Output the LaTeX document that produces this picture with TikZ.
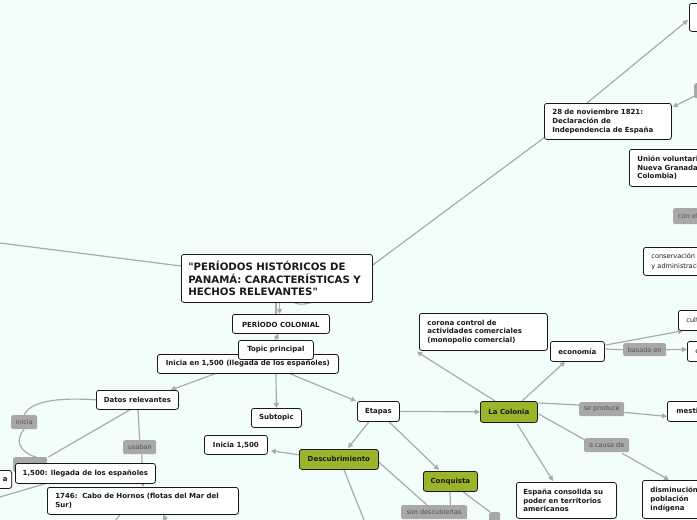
\documentclass[tikz,border=0pt]{standalone}
\usepackage{fontspec}
\setmainfont{DejaVu Sans}[Ligatures=TeXOff]
\usetikzlibrary{arrows.meta,positioning,calc,shadows}
\definecolor{bgcyan}{RGB}{241,254,252}
\definecolor{edgegray}{RGB}{170,170,170}
\definecolor{labgray}{RGB}{168,168,168}
\definecolor{labtext}{RGB}{80,80,80}
\definecolor{topicgreen}{RGB}{155,181,42}
\pgfdeclarelayer{bg}
\pgfdeclarelayer{edges}
\pgfsetlayers{bg,edges,main}

\begin{document}
\begin{tikzpicture}[x=1pt,y=-1pt,
  box/.style={draw=black!90,line width=0.75pt,rounded corners=2.5pt,fill=white,text=black!90,
    font=\bfseries\fontsize{7}{8.7}\selectfont,inner sep=0pt,anchor=north west,
    drop shadow={shadow xshift=0.8pt,shadow yshift=-0.8pt,opacity=0.3}},
  lbox/.style={box,align=left,inner xsep=8pt},
  thinfont/.style={font=\fontsize{6.6}{10}\selectfont},
  stage/.style={box,fill=topicgreen},
  tag/.style={fill=labgray,rounded corners=2pt,text=labtext,font=\fontsize{6.5}{7}\selectfont,
    inner sep=0pt,anchor=north west},
  conn/.style={draw=edgegray,line width=1.2pt},
  arr/.style={conn,-{Triangle[length=5pt,width=5pt]}}]
 \useasboundingbox (0,0) rectangle (697,520);
 \begin{pgfonlayer}{bg}
  \fill[bgcyan] (0,0) rectangle (697,520);
 \end{pgfonlayer}
 % ---- centre ----
 \node[box,font=\bfseries\fontsize{10.2}{12.3}\selectfont,align=left,inner xsep=7pt,text width=177,minimum height=48] (title) at (181,254)
   {"PERÍODOS HISTÓRICOS DE\\PANAMÁ: CARACTERÍSTICAS Y\\HECHOS RELEVANTES"};
 \node[box,minimum width=97,minimum height=19] (colonial) at (232,314) {PERÍODO COLONIAL};
 \node[box,minimum width=181,minimum height=19] (inicia) at (157,354) {Inicia en 1,500 (llegada de los españoles)};
 \node[box,minimum width=75,minimum height=19] (topicp) at (238,340) {Topic principal};
 \node[box,minimum width=82,minimum height=19] (datos) at (96,390) {Datos relevantes};
 \node[box,minimum width=50,minimum height=19] (subtopic) at (251,408) {Subtopic};
 \node[box,minimum width=42,minimum height=20] (etapas) at (357,401) {Etapas};
 % ---- upper right ----
 \node[lbox,text width=111,minimum height=36] (indep) at (544,103)
   {28 de noviembre 1821:\\Declaración de\\Independencia de España};
 \node[box,minimum width=40,minimum height=28] (cima) at (689,3) {};
 \node[tag,minimum width=20,minimum height=15] (tagcima) at (694,83) {};
 \node[lbox,text width=80,minimum height=37] (union) at (629,149) {Unión voluntaria\\Nueva Granada\\Colombia)};
 \node[tag,align=left,inner xsep=5pt,text width=30,minimum height=16] (conel) at (673,208) {con el};
 \node[lbox,thinfont,text width=70,minimum height=28] (conserv) at (643,247) {conservación\\y administración};
 % ---- La Colonia ----
 \node[stage,minimum width=57,minimum height=21] (colonia) at (480,401) {La Colonia};
 \node[lbox,text width=112,minimum height=37] (corona) at (419,313)
   {corona control de\\actividades comerciales\\(monopolio comercial)};
 \node[box,minimum width=54,minimum height=20] (economia) at (550,341) {economía};
 \node[lbox,thinfont,text width=60,minimum height=20] (cultivo) at (678,310) {cultivo};
 \node[lbox,thinfont,text width=60,minimum height=20] (ecut) at (687,341) {e};
 \node[lbox,inner xsep=9pt,text width=60,minimum height=20] (mesti) at (667,401) {mestizaje};
 \node[lbox,text width=60,minimum height=38] (dismin) at (642,480) {disminución\\población\\indígena};
 \node[lbox,inner xsep=7pt,text width=86,minimum height=36] (espana) at (516,482) {España consolida su\\poder en territorios\\americanos};
 \node[tag,minimum width=43,minimum height=13] (basada) at (623,343) {basada en};
 \node[tag,minimum width=45,minimum height=14] (produce) at (579,402) {se produce};
 \node[tag,minimum width=45,minimum height=14] (causa) at (584,438) {a causa de};
 % ---- etapas ----
 \node[box,minimum width=63,minimum height=19] (ini1500) at (204,435) {Inicia 1,500};
 \node[stage,minimum width=79,minimum height=20] (descub) at (299,449) {Descubrimiento};
 \node[stage,minimum width=54,minimum height=20] (conquista) at (423,471) {Conquista};
 \node[tag,minimum width=66,minimum height=14] (descubiertas) at (401,505) {son descubiertas};
 \node[tag,minimum width=11,minimum height=10] (tagmini) at (489,512) {};
 % ---- datos relevantes ----
 \node[tag,minimum width=26,minimum height=14] (tinicia) at (11,415) {inicia};
 \node[tag,minimum width=33,minimum height=14] (usaban) at (123,440) {usaban};
 \node[tag,minimum width=34,minimum height=15] (toculta) at (13,457) {};
 \node[box,minimum width=140,minimum height=20] (llegada) at (15,463) {1,500: llegada de los españoles};
 \node[box,anchor=north east,align=right,inner xsep=4pt,text width=44,minimum height=18] (cortea) at (12,470) {a};
 \node[lbox,text width=175,minimum height=27] (cabo) at (47,487) {1746:\ \ Cabo de Hornos (flotas del Mar del\\Sur)};
 \coordinate (w1) at (0,243);
 \coordinate (w2) at (0,497);
 \coordinate (s1) at (366,525);
 \coordinate (s2) at (112,525);
 \coordinate (s3) at (169,525);
 % ---- connectors ----
 \begin{pgfonlayer}{edges}
  \draw[conn] (w1) -- ($(title.north west)+(0,12)$);
  \draw[conn] ($(title.north east)+(0,11)$) -- ($(indep.south west)+(0,-2)$);
  \draw[arr] ($(indep.north west)+(43,0)$) -- ($(cima.north west)+(-1,17)$);
  \draw[arr] ($(tagcima.south west)+(0,-2)$) -- ($(indep.north east)+(1,4)$);
  \draw[conn] (292,301) .. controls (298,306) and (308,305) .. (318,299);
  \draw[conn] (276,302) -- (276,314);
  \draw[arr] (279.5,302) -- (279.5,314);
  \draw[arr] ($(inicia.north)+(20.5,0)$) -- ($(colonial.south)+(-2.5,0)$);
  \draw[arr] ($(inicia.south west)+(58,0)$) -- ($(datos.north east)+(-8,0)$);
  \draw[arr] ($(inicia.south west)+(119,0)$) -- (subtopic.north);
  \draw[arr] ($(inicia.south west)+(133,0)$) -- ($(etapas.north west)+(-1,0)$);
  \draw[arr] (etapas.east) -- (colonia.west);
  \draw[arr] ($(colonia.north west)+(15,0)$) -- ($(corona.south west)+(-2,1)$);
  \draw[arr] ($(colonia.north west)+(42,0)$) -- ($(economia.south west)+(15,0)$);
  \draw[arr] ($(economia.north east)+(1,4)$) -- ($(cultivo.south west)+(5,0)$);
  \draw[conn] ($(economia.north east)+(1,8)$) -- (basada.west);
  \draw[arr] (basada.east) -- ($(ecut.west)+(0,-2)$);
  \draw[conn] ($(colonia.north east)+(1,2)$) -- ($(produce.north west)+(0,3)$);
  \draw[arr] ($(produce.south east)+(0,-4)$) -- ($(mesti.west)+(0,5)$);
  \draw[conn] ($(colonia.north east)+(1,13)$) -- ($(causa.north west)+(1,2)$);
  \draw[arr] ($(causa.south east)+(-7,1)$) -- ($(dismin.north west)+(27,0)$);
  \draw[arr] ($(colonia.south west)+(37,1)$) -- ($(espana.north west)+(37,-1)$);
  \draw[arr] ($(etapas.south west)+(12,0)$) -- ($(descub.north west)+(49,-1)$);
  \draw[arr] ($(etapas.south west)+(32,0)$) -- ($(conquista.north west)+(16,-1)$);
  \draw[arr] ($(descub.north west)+(1,6)$) -- ($(ini1500.south east)+(3,-4)$);
  \draw[conn] ($(descub.south west)+(45,0)$) -- (s1);
  \draw[conn] ($(descub.north east)+(0,13)$) -- ($(descubiertas.north west)+(26,0)$);
  \draw[conn] ($(conquista.south west)+(27,0)$) -- ($(descubiertas.north east)+(-17,0)$);
  \draw[conn] ($(conquista.south west)+(40,0)$) -- ($(tagmini.north west)+(1,0)$);
  \draw[conn] (datos.west) .. controls (55,397) and (30,402) .. (tinicia.north);
  \draw[conn] (tinicia.south) .. controls (14,440) and (20,453) .. ($(toculta.north)+(6,0)$);
  \draw[conn] ($(datos.south west)+(34,0)$) -- ($(toculta.north east)+(1,0)$);
  \draw[conn] ($(datos.south west)+(42,0)$) -- (usaban.north);
  \draw[arr] ($(usaban.south)+(2,0)$) -- ($(cabo.north west)+(96,0)$);
  \draw[conn] (w2) -- ($(llegada.south west)+(30,0)$);
  \draw[conn] ($(cabo.south west)+(73,0)$) -- (s2);
  \draw[arr] (s3) -- ($(cabo.south west)+(116,0)$);
 \end{pgfonlayer}
\end{tikzpicture}
\end{document}
